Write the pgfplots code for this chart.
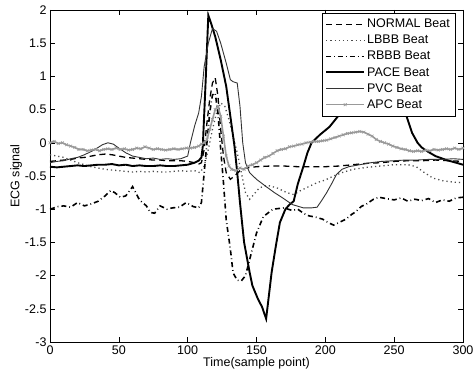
\documentclass[border=0pt]{standalone}
\usepackage{pgfplots}
\pgfplotsset{compat=1.18}
\usepackage{fontspec}
\setmainfont{Liberation Sans}
\begin{document}
\begin{tikzpicture}
\begin{axis}[name=ax,
  scale only axis, width=413pt, height=332pt,
  xmin=0, xmax=300, ymin=-3, ymax=2,
  xtick={0,50,...,300}, ytick={-3,-2.5,...,2},
  tick align=inside, major tick length=5pt,
  xtick pos=both, ytick pos=both,
  /pgf/number format/assume math mode=true,
  ticklabel style={font=\fontsize{12.5}{14}\selectfont},
  label style={font=\fontsize{12.5}{14}\selectfont},
  xlabel={Time(sample point)}, ylabel={ECG signal},
  xlabel style={yshift=4pt}, ylabel style={yshift=-4pt},
  axis line style={line width=0.6pt},
  every tick/.style={line width=0.5pt},
  legend style={font=\fontsize{12.5}{13}\selectfont, draw=black, fill=white,
    at={(rel axis cs:1,1)}, anchor=north east, xshift=-8pt, yshift=-3pt,
    inner xsep=3pt, inner ysep=4pt, row sep=1.9pt},
  legend cell align=left,
  legend image code/.code={\draw[mark repeat=2,mark phase=2] plot coordinates {(3pt,0pt) (22pt,0pt) (41pt,0pt)};},
]
% NORMAL
\addplot[black, line width=1.3pt, dash pattern=on 6pt off 4pt] coordinates {
(0,-0.28) (5,-0.27) (10,-0.26) (15,-0.25) (20,-0.23) (25,-0.22) (30,-0.2) (35,-0.18) (40,-0.17) (45,-0.18) (50,-0.2) (55,-0.22) (60,-0.23) (65,-0.24) (70,-0.25) (75,-0.26) (80,-0.26) (85,-0.27) (90,-0.27) (95,-0.27) (100,-0.28) (105,-0.3) (108,-0.32) (110,-0.3) (112,-0.1) (114,0.3) (116,0.65) (118,0.9) (120,0.98) (122,0.7) (124,0.2) (126,-0.2) (128,-0.45) (131,-0.55) (134,-0.5) (138,-0.42) (142,-0.38) (150,-0.36) (160,-0.35) (170,-0.35) (180,-0.36) (190,-0.36) (200,-0.36) (210,-0.35) (220,-0.33) (230,-0.31) (240,-0.3) (250,-0.28) (260,-0.27) (270,-0.27) (280,-0.26) (290,-0.27) (300,-0.28)};
\addlegendentry{NORMAL Beat}
% LBBB
\addplot[black!70, line width=1.3pt, dash pattern=on 1.2pt off 3pt] coordinates {
(0,-0.18) (5,-0.2) (10,-0.22) (15,-0.26) (20,-0.3) (25,-0.33) (30,-0.36) (35,-0.38) (40,-0.4) (45,-0.41) (50,-0.42) (55,-0.43) (60,-0.44) (65,-0.43) (70,-0.44) (75,-0.43) (80,-0.44) (85,-0.44) (90,-0.43) (95,-0.42) (100,-0.43) (105,-0.42) (109,-0.45) (112,-0.35) (115,-0.1) (118,0.2) (121,0.45) (124,0.6) (127,0.55) (130,0.35) (133,0.1) (136,-0.15) (139,-0.45) (142,-0.75) (145,-0.85) (148,-0.78) (152,-0.68) (158,-0.64) (165,-0.68) (172,-0.75) (177,-0.78) (182,-0.72) (188,-0.66) (194,-0.6) (200,-0.56) (206,-0.5) (212,-0.45) (220,-0.4) (230,-0.37) (240,-0.35) (250,-0.33) (260,-0.33) (266,-0.36) (272,-0.45) (278,-0.53) (285,-0.57) (292,-0.59) (300,-0.6)};
\addlegendentry{LBBB Beat}
% RBBB
\addplot[black, line width=1.6pt, dash pattern=on 5pt off 3pt on 0.8pt off 3pt] coordinates {
(0,-1.0) (3,-0.98) (6,-0.96) (10,-0.95) (15,-0.97) (20,-0.9) (25,-0.95) (30,-0.92) (35,-0.88) (40,-0.8) (44,-0.72) (47,-0.75) (51,-0.82) (55,-0.8) (60,-0.66) (65,-0.86) (70,-0.95) (73,-1.05) (76,-1.06) (80,-0.95) (85,-1.0) (89,-0.98) (94,-0.97) (99,-0.9) (104,-0.96) (108,-0.98) (110,-0.9) (112,-0.45) (114,0.0) (116,0.45) (118,0.72) (120,0.75) (122,0.45) (124,-0.1) (126,-0.6) (128,-1.16) (131,-1.6) (133,-1.96) (136,-2.07) (139,-2.08) (142,-2.0) (145,-1.76) (150,-1.36) (155,-1.11) (162,-1.0) (170,-0.98) (176,-1.02) (180,-1.0) (184,-1.06) (188,-1.1) (193,-1.12) (198,-1.15) (202,-1.2) (206,-1.24) (210,-1.2) (215,-1.15) (219,-1.08) (222,-1.04) (226,-0.96) (230,-0.92) (235,-0.85) (239,-0.82) (244,-0.84) (250,-0.86) (255,-0.83) (260,-0.88) (265,-0.85) (270,-0.87) (275,-0.84) (280,-0.9) (285,-0.86) (290,-0.88) (295,-0.83) (300,-0.82)};
\addlegendentry{RBBB Beat}
% PACE
\addplot[black, line width=1.9pt] coordinates {
(0,-0.36) (5,-0.37) (10,-0.36) (15,-0.35) (20,-0.34) (25,-0.35) (30,-0.34) (35,-0.33) (40,-0.33) (45,-0.32) (50,-0.34) (55,-0.33) (60,-0.35) (65,-0.34) (70,-0.35) (75,-0.35) (80,-0.34) (85,-0.35) (90,-0.35) (95,-0.34) (100,-0.33) (105,-0.3) (108,-0.27) (110,-0.22) (111,-0.05) (113,0.9) (115,1.92) (117,1.8) (120,1.6) (124,1.25) (128,0.85) (131,0.4) (134,-0.05) (136,-0.45) (138,-0.9) (141,-1.5) (145,-1.95) (147,-2.15) (151,-2.35) (154,-2.47) (157,-2.65) (159,-2.3) (161,-1.95) (164,-1.56) (167,-1.2) (171,-1.0) (174,-0.93) (177,-0.88) (180,-0.62) (184,-0.36) (187,-0.15) (190,0.0) (196,0.12) (203,0.24) (210,0.42) (218,0.65) (226,0.85) (234,0.95) (242,0.9) (250,0.72) (255,0.55) (259,0.4) (263,0.15) (267,0.0) (270,-0.07) (275,-0.14) (280,-0.2) (288,-0.26) (295,-0.3) (300,-0.33)};
\addlegendentry{PACE Beat}
% PVC
\addplot[black!80, line width=0.9pt] coordinates {
(0,-0.3) (5,-0.28) (10,-0.27) (15,-0.24) (20,-0.22) (25,-0.18) (30,-0.13) (35,-0.07) (38,-0.03) (42,0.0) (46,-0.02) (50,-0.08) (55,-0.15) (60,-0.2) (65,-0.22) (70,-0.24) (75,-0.23) (80,-0.25) (85,-0.24) (90,-0.25) (95,-0.24) (100,-0.2) (102,0.0) (105,0.25) (108,0.45) (110,0.7) (112,1.15) (115,1.5) (118,1.72) (121,1.68) (124,1.5) (128,1.2) (131,0.95) (133,0.92) (136,0.9) (138,0.55) (140,0.0) (142,-0.3) (145,-0.45) (150,-0.55) (157,-0.66) (163,-0.75) (169,-0.83) (176,-0.93) (184,-0.98) (190,-0.98) (194,-0.97) (197,-0.88) (201,-0.75) (205,-0.6) (208,-0.48) (212,-0.4) (217,-0.36) (225,-0.33) (233,-0.3) (241,-0.28) (250,-0.27) (258,-0.26) (266,-0.26) (275,-0.25) (285,-0.25) (293,-0.24) (300,-0.25)};
\addlegendentry{PVC Beat}
% APC
\addplot[black!40, line width=1.6pt, mark=x, mark size=2pt, mark options={solid, line width=0.6pt}] coordinates {
(0,0.0) (3,0.02) (6,-0.01) (9,0.0) (12,-0.03) (15,-0.05) (18,-0.07) (21,-0.1) (24,-0.1) (27,-0.12) (30,-0.11) (33,-0.1) (36,-0.12) (39,-0.1) (42,-0.09) (45,-0.1) (48,-0.08) (51,-0.1) (54,-0.09) (57,-0.11) (60,-0.1) (63,-0.08) (66,-0.09) (69,-0.06) (72,-0.08) (75,-0.1) (78,-0.09) (81,-0.1) (84,-0.11) (87,-0.1) (90,-0.09) (93,-0.1) (96,-0.09) (99,-0.08) (102,-0.08) (105,-0.07) (108,-0.05) (110,-0.02) (112,0.0) (114,0.05) (116,0.2) (118,0.35) (120,0.5) (122,0.55) (124,0.4) (126,0.1) (128,-0.2) (130,-0.35) (132,-0.4) (135,-0.42) (138,-0.38) (141,-0.4) (144,-0.35) (147,-0.33) (150,-0.3) (153,-0.26) (156,-0.22) (159,-0.2) (162,-0.16) (165,-0.12) (168,-0.1) (171,-0.09) (174,-0.06) (177,-0.05) (180,-0.03) (183,-0.02) (186,0.0) (189,0.01) (192,0.02) (195,0.02) (198,0.03) (201,0.04) (204,0.06) (207,0.08) (210,0.1) (213,0.12) (216,0.14) (219,0.15) (222,0.16) (225,0.17) (228,0.16) (231,0.13) (234,0.1) (237,0.05) (240,0.02) (243,0.0) (246,-0.02) (249,-0.05) (252,-0.07) (255,-0.09) (258,-0.1) (261,-0.12) (264,-0.13) (267,-0.12) (270,-0.13) (273,-0.11) (276,-0.12) (279,-0.1) (282,-0.11) (285,-0.1) (288,-0.09) (291,-0.1) (294,-0.08) (297,-0.1) (300,-0.08)};
\addlegendentry{APC Beat}
\end{axis}
\pgfresetboundingbox
\useasboundingbox ([xshift=-50pt,yshift=-34pt]ax.south west) rectangle ([xshift=11pt,yshift=10pt]ax.north east);
\end{tikzpicture}
\end{document}
